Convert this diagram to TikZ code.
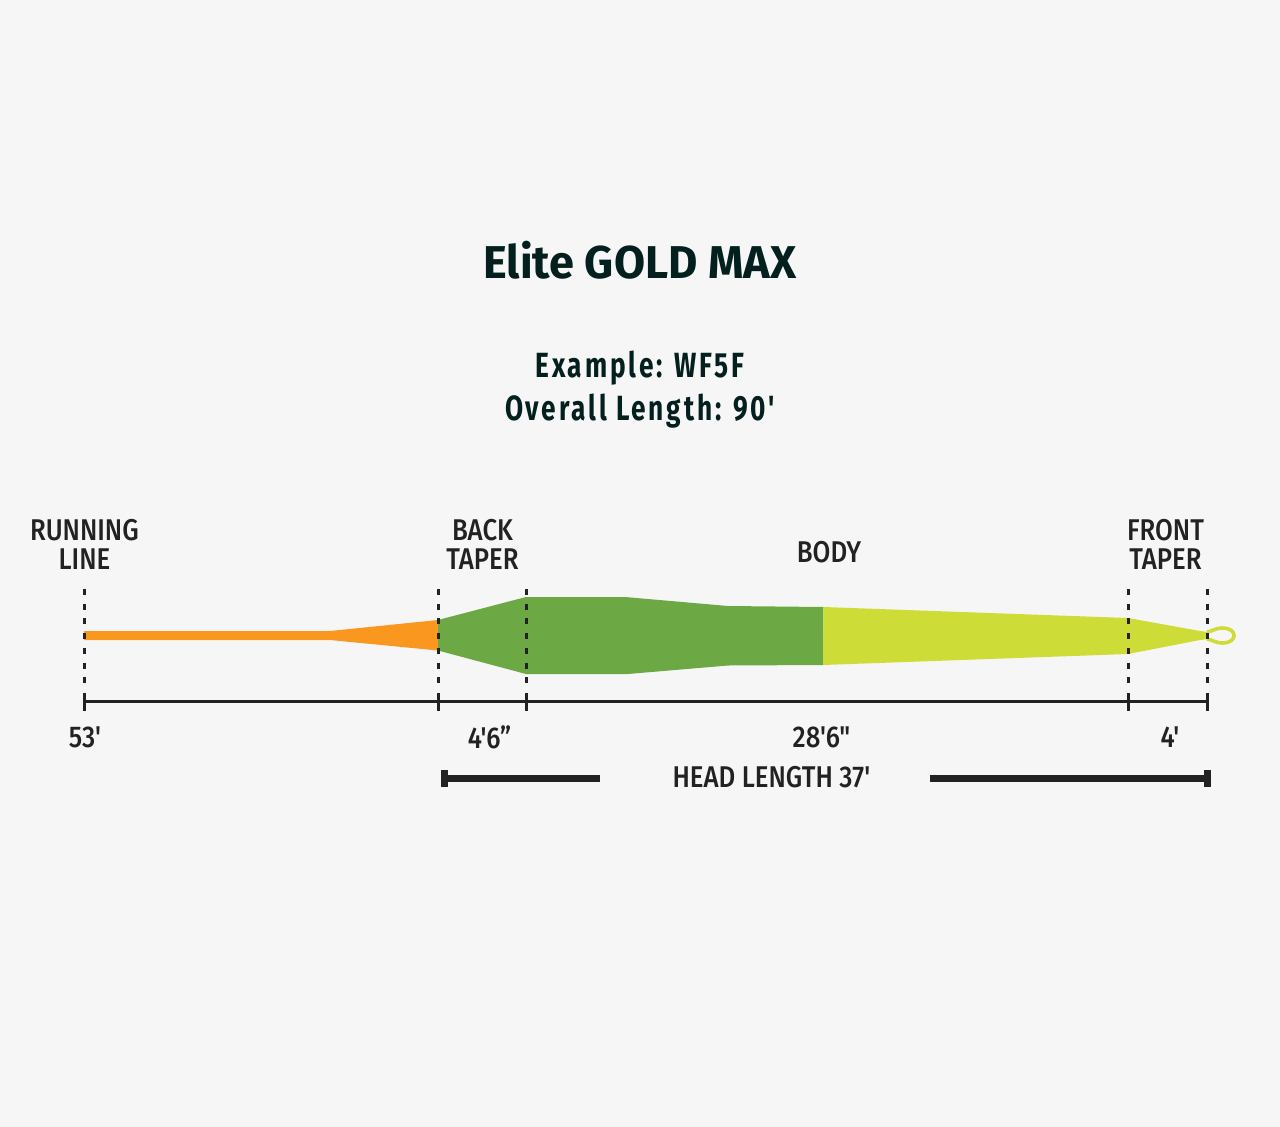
\documentclass[tikz,border=0pt]{standalone}
\usepackage{fontspec}
\setmainfont{Fira Sans}
\newfontfamily\lblfont[FakeStretch=0.86]{Fira Sans Medium}
\newfontfamily\subfont[FakeStretch=0.75,LetterSpace=8,BoldFont={Fira Sans Bold}]{Fira Sans}
\newfontfamily\ttlfont[FakeStretch=0.98,BoldFont={Fira Sans Bold}]{Fira Sans}
\definecolor{bgc}{HTML}{F6F6F6}
\definecolor{ink}{HTML}{222222}
\definecolor{deep}{HTML}{03201F}
\definecolor{orangeline}{HTML}{F9971E}
\definecolor{greenline}{HTML}{6CA843}
\definecolor{limeline}{HTML}{CDDC37}
\tikzset{
  lbl/.style={text=ink,font=\lblfont\fontsize{30}{29}\selectfont,align=center,inner sep=0pt,anchor=center},
  sub/.style={text=deep,font=\subfont\bfseries\fontsize{35}{43}\selectfont,align=center,inner sep=0pt,anchor=center},
  ttl/.style={text=deep,font=\ttlfont\bfseries\fontsize{46}{50}\selectfont,inner sep=0pt,anchor=center},
  guide/.style={draw=ink,line width=3.6pt,dash pattern=on 6pt off 8.7pt},
  axis/.style={draw=ink,line width=2.6pt},
  tick/.style={draw=ink,line width=3pt},
  headbar/.style={draw=ink,line width=7pt},
  headcap/.style={draw=ink,line width=7pt}
}
\begin{document}
\begin{tikzpicture}[x=1pt,y=-1pt]
\useasboundingbox (0,0) rectangle (1280,1127);
\fill[bgc] (0,0) rectangle (1280,1127);
% coordinates
\coordinate (g1t) at (84.5,589); \coordinate (g1b) at (84.5,684);
\coordinate (g2t) at (438.5,589);  \coordinate (g2b) at (438.5,684);
\coordinate (g3t) at (526.5,589);\coordinate (g3b) at (526.5,684);
\coordinate (g4t) at (1128.5,589);\coordinate (g4b) at (1128.5,684);
\coordinate (g5t) at (1207.5,589);\coordinate (g5b) at (1207.5,684);
% fly line
\fill[orangeline] (84,631) -- (330,631) -- (438,620) -- (438,650.5) -- (330,640) -- (84,640) -- cycle;
\fill[greenline] (438,620) -- (526,597) -- (625,597) -- (728,606) -- (823.5,607) -- (823,665) -- (728,665.5) -- (628,674) -- (526,674) -- (438,650.5) -- cycle;
\fill[limeline] (823.5,607) -- (1128,618) -- (1200,631) -- (1208,632) -- (1208,639) -- (1200,640) -- (1128,654) -- (823,665) -- cycle;
\draw[limeline,line width=3.6pt] (1207,632) .. controls (1213,631) and (1216,628) .. (1222,628) .. controls (1231,628) and (1234,632) .. (1234,635.5) .. controls (1234,639) and (1231,643) .. (1222,643) .. controls (1216,643) and (1213,640) .. (1207,639);
% guides
\draw[guide] (g1t) -- (g1b);
\draw[guide] (g2t) -- (g2b);
\draw[guide] (g3t) -- (g3b);
\draw[guide] (g4t) -- (g4b);
\draw[guide] (g5t) -- (g5b);
% axis
\coordinate (a1) at (84.5,701.5); \coordinate (a2) at (438.5,701.5); \coordinate (a3) at (526.5,701.5);
\coordinate (a4) at (1128.5,701.5); \coordinate (a5) at (1207.5,701.5);
\draw[axis] (a1) -- (a5);
\foreach \p in {a1,a2,a3,a4,a5} \draw[tick] ([yshift=-9pt]\p) -- ([yshift=9pt]\p);
% texts
\node[ttl] (title) at (640,260.5) {Elite GOLD MAX};
\node[sub] (subt) at (640,389.5) {Example: WF5F\\Overall Length: 90'};
\node[lbl] (running) at (84.5,544.5) {RUNNING\\LINE};
\node[lbl] (back) at (482.5,544.5) {BACK\\TAPER};
\node[lbl] (body) at (829,552) {BODY};
\node[lbl] (front) at (1165.5,544.5) {FRONT\\TAPER};
\node[lbl] (d1) at (85,737) {53'};
\node[lbl] (d2) at (489.5,737) {4'6”};
\node[lbl] (d3) at (821.5,737) {28'6"};
\node[lbl] (d4) at (1170,737) {4'};
\node[lbl] (head) at (771.5,777) {HEAD LENGTH 37'};
% head bar
\coordinate (h1) at (444,778); \coordinate (h2) at (600,778); \coordinate (h3) at (930,778); \coordinate (h4) at (1207.5,778);
\draw[headbar] (h1) -- (h2);
\draw[headbar] (h3) -- (h4);
\draw[headcap] (444,770) -- (444,787);
\draw[headcap] (1207.5,770) -- (1207.5,787);
\end{tikzpicture}
\end{document}
